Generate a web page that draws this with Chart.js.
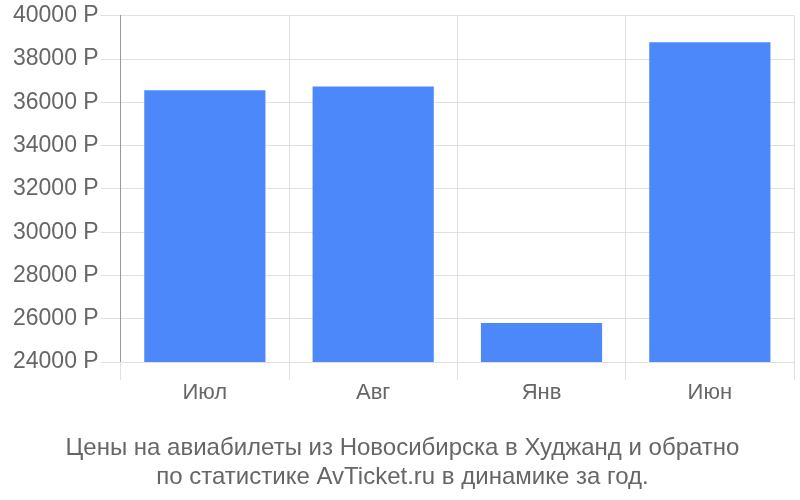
<!DOCTYPE html>
<html>
<head>
<meta charset="utf-8">
<script src="https://cdn.jsdelivr.net/npm/chart.js@4"></script>
<style>
    html, body { margin: 0; padding: 0; background: #fff; }
    #wrap { width: 800px; height: 500px; }
</style>
</head>
<body>
<div id="wrap"><canvas id="graphCanvas"></canvas></div>
<script>
const months = ["Июл", "Авг", "Янв", "Июн"];
const prices = [36560, 36730, 25800, 38780];
const yTicks = [24000, 26000, 28000, 30000, 32000, 34000, 36000, 38000, 40000];
const titleLines = [
    "Цены на авиабилеты из Новосибирска в Худжанд и обратно",
    "по статистике AvTicket.ru в динамике за год."
];

const ctx = document.getElementById('graphCanvas');

const chart = new Chart(ctx, {
    type: 'bar',
    data: {
        labels: months,
        datasets: [{
            data: prices,
            backgroundColor: "#4d88fa",
            borderWidth: 0
        }]
    },
    options: {
        responsive: true,
        maintainAspectRatio: false,
        animation: false,
        layout: {
            padding: { top: 3, right: 6, left: 11, bottom: 5 }
        },
        scales: {
            y: {
                min: 24000,
                max: 40000,
                afterBuildTicks: axis => {
                    axis.ticks = yTicks.map(v => ({ value: v }));
                },
                ticks: {
                    color: "#666",
                    font: { family: "Liberation Sans", size: 23 },
                    padding: 2,
                    callback: v => v + " Р"
                },
                grid: {
                    color: "#e0e0e0",
                    tickLength: 20
                },
                border: { color: "#999" }
            },
            x: {
                ticks: {
                    color: "#666",
                    font: { family: "Liberation Sans", size: 22 },
                    padding: 0
                },
                grid: {
                    color: "#e0e0e0",
                    tickLength: 18,
                    offset: true
                },
                border: { color: "#e0e0e0" }
            }
        },
        plugins: {
            legend: { display: false },
            tooltip: { enabled: false },
            title: {
                display: true,
                position: "bottom",
                text: titleLines,
                color: "#666",
                font: { family: "Liberation Sans", size: 24, weight: "normal" },
                padding: { top: 28, bottom: 3 },
                lineHeight: 1.17
            }
        }
    }
});
</script>
</body>
</html>
